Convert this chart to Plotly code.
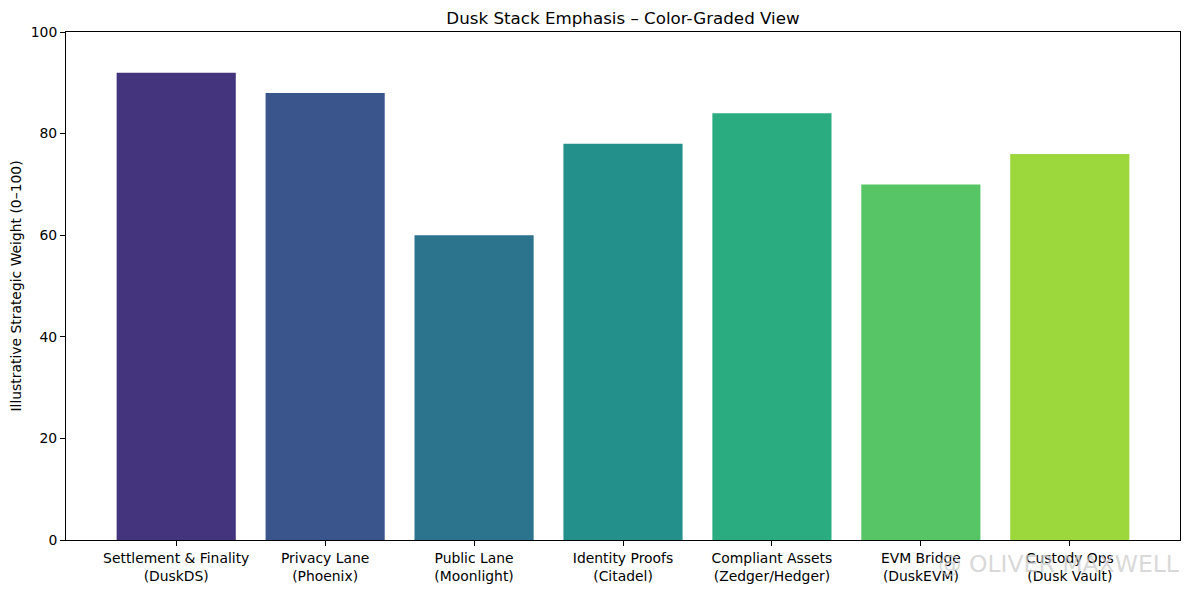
import plotly.graph_objects as go
from plotly.colors import sample_colorscale

categories = ["Settlement & Finality<br>(DuskDS)", "Privacy Lane<br>(Phoenix)", "Public Lane<br>(Moonlight)",
              "Identity Proofs<br>(Citadel)", "Compliant Assets<br>(Zedger/Hedger)", "EVM Bridge<br>(DuskEVM)",
              "Custody Ops<br>(Dusk Vault)"]
values = [92, 88, 60, 78, 84, 70, 76]
y_ticks = [0, 20, 40, 60, 80, 100]

n = len(categories)
colors = sample_colorscale("Viridis", [0.15 + 0.7 * i / (n - 1) for i in range(n)])

fig = go.Figure(go.Bar(x=list(range(n)), y=values, marker=dict(color=colors, line=dict(width=0)), width=0.8))

# the page body adds an 8px offset; compensate so the figure fills the 1189x590 window
W, H = 1181, 582
font = "DejaVu Sans"
fig.update_layout(
    width=W, height=H,
    margin=dict(l=58, r=9, t=24, b=50, autoexpand=False),
    paper_bgcolor="white", plot_bgcolor="white",
    font=dict(family=font, size=14, color="black"),
    title=dict(text="Dusk Stack Emphasis – Color-Graded View", x=(58 + 1172) / 2 / W, xanchor="center",
               y=1 - 10 / H, yanchor="middle", font=dict(size=16.7, family=font)),
    showlegend=False,
    bargap=0.2,
)
fig.update_xaxes(
    tickmode="array", tickvals=list(range(n)), ticktext=categories,
    range=[-0.74, n - 1 + 0.74], showgrid=False, zeroline=False, automargin=False,
    showline=True, linecolor="black", linewidth=1, mirror=True,
    ticks="outside", ticklen=5, tickcolor="black", tickfont=dict(size=13.9),
)
fig.update_yaxes(
    range=[0, 100], tickmode="array", tickvals=y_ticks, showgrid=False, zeroline=False, automargin=False,
    showline=True, linecolor="black", linewidth=1, mirror=True,
    ticks="outside", ticklen=5, tickcolor="black", tickfont=dict(size=13.9),
    title=dict(text="Illustrative Strategic Weight (0–100)", font=dict(size=13.9), standoff=12),
)
fig.add_annotation(text="@ OLIVER MAXWELL", xref="paper", yref="paper", x=1.0 + 1 / 1114, y=-0.048,
                   xanchor="right", yanchor="middle", showarrow=False,
                   font=dict(size=23.5, color="rgba(200,200,200,0.7)", family=font))

fig.write_html("out.html")
